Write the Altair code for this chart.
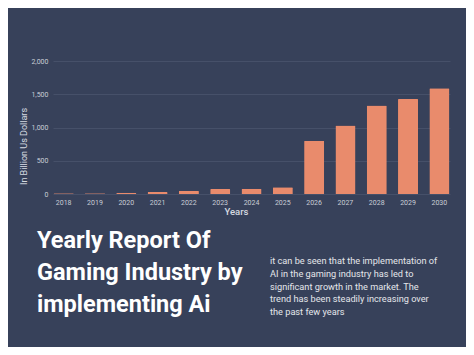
import altair as alt
import pandas as pd

years = ["2018", "2019", "2020", "2021", "2022", "2023", "2024", "2025",
         "2026", "2027", "2028", "2029", "2030"]
values = [10, 12, 20, 30, 50, 75, 80, 100, 800, 1030, 1330, 1430, 1590]

title_lines = ["Yearly Report Of", "Gaming Industry by", "implementing Ai"]
para_lines = [
    "it can be seen that the implementation of",
    "AI in the gaming industry has led to",
    "significant growth in the market. The",
    "trend has been steadily increasing over",
    "the past few years",
]
y_ticks = [0, 500, 1000, 1500, 2000]

BG = "#37415a"
BAR = "#e98b6c"
FONT = "Roboto"

df = pd.DataFrame({"Year": years, "Value": values})
tdf = pd.DataFrame({"t": title_lines, "i": range(len(title_lines))})
pdf = pd.DataFrame({"t": para_lines, "i": range(len(para_lines))})

W, H = 397, 133

bars = alt.Chart(df).mark_bar(color=BAR, cornerRadiusTopLeft=1, cornerRadiusTopRight=1).encode(
    x=alt.X("Year:N", sort=years,
            scale=alt.Scale(paddingInner=0.36, paddingOuter=0.02),
            axis=alt.Axis(title="Years", labelAngle=0, labelFontSize=7, labelColor="#c9cdd6",
                          labelFont=FONT, ticks=False, domain=False, labelPadding=4,
                          titleFont=FONT, titleFontSize=9.5, titleFontWeight=500,
                          titleColor="#d5d9e0", titleX=183, titleY=17,
                          titleBaseline="middle", titleAlign="center")),
    y=alt.Y("Value:Q",
            scale=alt.Scale(domain=[0, 2000], nice=False),
            axis=alt.Axis(title="In Billion Us Dollars", values=y_ticks, format=",.0f",
                          labelFontSize=7, labelColor="#c9cdd6", labelFont=FONT,
                          ticks=False, domain=False, labelPadding=5,
                          gridColor="#4a546d", gridWidth=0.8,
                          titleFont=FONT, titleFontSize=9, titleFontWeight="normal",
                          titleColor="#d5d9e0", titleAngle=-90, titleX=-30, titleY=85,
                          titleBaseline="middle", titleAlign="center")),
)

title = alt.Chart(tdf).mark_text(
    align="left", baseline="alphabetic", font=FONT, fontSize=23.5, fontWeight="bold",
    color="#ffffff"
).encode(
    x=alt.value(-16),
    y=alt.Y("i:O", scale=alt.Scale(type="point", range=[187, 251], padding=0), axis=None),
    text="t:N",
)

para = alt.Chart(pdf).mark_text(
    align="left", baseline="alphabetic", font=FONT, fontSize=9.2,
    color="#e4e6ea"
).encode(
    x=alt.value(217),
    y=alt.Y("i:O", scale=alt.Scale(type="point", range=[203, 254], padding=0), axis=None),
    text="t:N",
)

chart = alt.layer(bars, title, para).resolve_scale(y="independent").properties(
    width=W, height=H,
    background=BG,
    autosize=alt.AutoSizeParams(type="none"),
    padding={"left": 45, "top": 53, "right": 16, "bottom": 153},
).configure_view(stroke=None)

chart.save("out.html", embed_options={"renderer": "svg", "actions": False})
